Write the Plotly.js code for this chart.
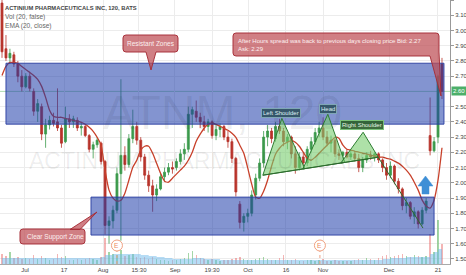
<!DOCTYPE html>
<html><head><meta charset="utf-8">
<script src="https://cdn.plot.ly/plotly-3.0.1.min.js"></script>
<style>html,body{margin:0;padding:0;background:#fff;overflow:hidden}#chart{width:466px;height:275px}</style>
</head><body><div id="chart"></div>
<script>
// ---- data (120-minute bars, ATNM) ----
const opens=[3.18,2.88,2.82,2.84,2.78,2.70,2.63,2.70,2.60,2.47,
2.50,2.32,2.38,2.41,2.40,2.36,2.27,2.42,2.40,2.41,
2.36,2.37,2.31,2.22,2.25,2.26,2.14,1.72,1.75,1.82,
2.06,2.18,2.12,2.29,2.37,2.28,2.17,2.05,1.98,1.92,
1.96,2.04,2.07,2.10,2.10,2.14,2.19,2.22,2.45,2.47,
2.43,2.40,2.37,2.40,2.31,2.35,2.37,2.30,2.27,2.16,
1.86,1.74,1.78,1.80,1.92,2.03,2.13,2.30,2.34,2.29,
2.37,2.34,2.27,2.30,2.19,2.10,2.17,2.13,2.22,2.27,
2.33,2.36,2.30,2.26,2.28,2.19,2.18,2.20,2.17,2.19,
2.16,2.10,2.15,2.18,2.17,2.19,2.15,2.10,2.05,2.11,
2.01,1.96,1.85,1.87,1.78,1.81,1.73,1.82,2.31,2.21,
2.30,2.78];
const highs=[3.20,2.97,2.88,2.86,2.80,2.74,2.72,2.72,2.62,2.55,
2.52,2.42,2.44,2.46,2.62,2.38,2.50,2.45,2.44,2.43,
2.40,2.38,2.32,2.27,2.30,2.27,2.15,1.78,1.85,2.10,
2.68,2.24,2.32,2.48,2.40,2.30,2.19,2.08,2.02,1.99,
2.06,2.10,2.13,2.14,2.16,2.22,2.26,2.50,2.50,2.54,
2.46,2.44,2.42,2.41,2.38,2.39,2.38,2.34,2.29,2.17,
1.88,1.80,1.83,1.95,2.06,2.16,2.34,2.38,2.36,2.40,
2.42,2.36,2.32,2.31,2.24,2.20,2.20,2.24,2.30,2.36,
2.40,2.43,2.34,2.31,2.29,2.22,2.21,2.22,2.21,2.21,
2.19,2.17,2.20,2.21,2.20,2.20,2.16,2.13,2.14,2.12,
2.03,1.97,1.90,1.88,1.84,1.82,1.84,1.90,2.56,2.30,
2.71,2.82];
const lows=[2.82,2.80,2.78,2.76,2.66,2.60,2.62,2.60,2.44,2.40,
2.28,2.23,2.35,2.37,2.34,2.23,2.26,2.36,2.36,2.34,
2.31,2.30,2.20,2.16,2.23,2.12,1.66,1.60,1.70,1.80,
1.62,2.08,2.10,2.26,2.25,2.14,2.02,1.94,1.81,1.88,
1.95,2.01,2.05,2.06,2.08,2.12,2.15,2.20,2.36,2.40,
2.36,2.34,2.33,2.29,2.28,2.30,2.28,2.23,2.13,1.91,
1.70,1.68,1.74,1.78,1.89,2.01,2.10,2.24,2.26,2.27,
2.32,2.24,2.22,2.16,2.06,2.08,2.11,2.11,2.20,2.25,
2.30,2.28,2.24,2.20,2.17,2.15,2.15,2.16,2.15,2.14,
2.07,2.07,2.13,2.15,2.14,2.13,2.07,2.02,2.03,1.99,
1.93,1.82,1.80,1.76,1.73,1.70,1.72,1.80,2.18,2.20,
2.26,2.55];
const closes=[2.86,2.82,2.85,2.78,2.70,2.63,2.70,2.62,2.47,2.52,
2.32,2.38,2.41,2.39,2.36,2.26,2.42,2.40,2.42,2.36,
2.37,2.31,2.22,2.25,2.28,2.14,1.72,1.75,1.82,2.06,
2.18,2.12,2.29,2.37,2.28,2.17,2.05,1.98,1.92,1.96,
2.04,2.07,2.10,2.09,2.14,2.19,2.22,2.45,2.48,2.43,
2.40,2.37,2.40,2.31,2.35,2.37,2.30,2.27,2.16,1.94,
1.74,1.78,1.80,1.92,2.03,2.13,2.30,2.34,2.29,2.37,
2.34,2.27,2.30,2.19,2.10,2.17,2.13,2.22,2.27,2.33,
2.36,2.30,2.26,2.28,2.19,2.18,2.20,2.17,2.19,2.16,
2.10,2.15,2.18,2.17,2.19,2.15,2.10,2.05,2.11,2.01,
1.96,1.85,1.87,1.78,1.81,1.73,1.82,1.88,2.21,2.27,
2.70,2.60];
const ema20=[2.705,2.764,2.790,2.790,2.784,2.764,2.744,2.725,2.705,2.679,
2.633,2.561,2.476,2.436,2.430,2.430,2.423,2.417,2.410,2.404,
2.397,2.384,2.364,2.338,2.299,2.247,2.083,1.952,1.899,1.880,
1.886,1.932,2.017,2.102,2.148,2.214,2.240,2.240,2.194,2.129,
2.063,2.011,2.004,2.030,2.057,2.083,2.109,2.148,2.201,2.273,
2.319,2.358,2.384,2.391,2.384,2.371,2.358,2.345,2.325,2.299,
2.247,2.194,2.096,1.991,1.906,1.899,1.945,2.017,2.109,2.188,
2.227,2.253,2.266,2.279,2.266,2.240,2.201,2.161,2.148,2.168,
2.194,2.220,2.247,2.273,2.299,2.292,2.247,2.220,2.214,2.207,
2.201,2.194,2.188,2.181,2.175,2.168,2.168,2.161,2.155,2.142,
2.129,2.109,2.083,2.050,2.004,1.952,1.886,1.847,1.834,1.886,
2.017,2.230];
const volume=[50,40,60,30,35,25,30,25,45,25,
40,30,20,25,50,35,40,20,20,25,
20,25,30,25,20,35,130,60,50,45,
70,40,45,50,35,30,35,25,35,25,
20,20,15,20,20,25,30,55,65,45,
30,25,20,25,20,15,20,20,25,30,
35,25,20,20,25,30,35,25,20,20,
30,45,20,20,25,15,15,20,20,15,
20,25,15,15,20,15,15,15,15,20,
25,20,30,25,20,30,40,45,35,40,
45,50,40,35,45,40,35,40,150,60,
220,100];
const volumeMA=[30,30,30,30,30,30,30,30,30,30,
30,30,30,30,30,30,30,30,30,30,
30,30,30,30,30,35,45,45,50,50,
50,50,50,50,50,45,45,40,40,35,
35,30,30,25,25,25,25,25,30,30,
30,25,25,25,25,20,20,20,20,20,
20,20,20,20,20,20,20,20,20,20,
20,20,20,20,20,20,20,20,20,20,
20,20,20,20,20,20,20,20,20,20,
20,20,20,20,20,20,25,25,30,30,
30,30,35,35,35,35,35,35,50,60,
75,80];
const tickPositions=[5.8,15.64,25.48,34.56,43.64,52.98,62.06,71.64,80.98,97.63,109.99];
const tickLabels=['Jul','17','Aug','15:30','Sep','19:30','Oct','16','Nov','Dec','21'];
const priceTicks=[1.5,1.6,1.7,1.8,1.9,2.0,2.1,2.2,2.3,2.4,2.5,2.7,2.8,2.9,3.0,3.1,3.2];
const lastPrice=2.60;
const resistanceZone={from:1.0,to:111.5,low:2.385,high:2.785};
const supportZone={from:22.45,to:109.0,low:1.657,high:1.906};
const leftShoulder=[[65.8,2.050],[70.6,2.423],[76.4,2.093]];
const headPeak=[[75.9,2.091],[82.2,2.450],[86.5,2.134]];
const rightShoulder=[[85.5,2.130],[91.1,2.332],[94.9,2.168]];
const neckline=[[65.8,2.050],[94.9,2.168]];
const breakdownLine=[[94.9,2.168],[106.2,1.703]];
const earnings=[29.0,80.2];

const bars=opens.map((_,i)=>i);
const upC='#3c9a4c', dnC='#b8332b';

// ---- geometry helpers (plot area 450x264 px) ----
const PW=450, PH=264;
function P(segs){return segs.map(s=>{const c=s[0];const n=s.slice(1);const out=[];for(let k=0;k<n.length;k+=2){out.push((n[k]/PW).toFixed(5)+','+(1-n[k+1]/PH).toFixed(5));}return c+out.join(' ');}).join(' ')+' Z';}
function triPath(pts){return 'M'+pts.map(p=>p[0]+','+p[1]).join(' L')+' Z';}

const calloutFill='rgba(190,78,84,0.72)', calloutLine='rgba(165,45,55,0.95)';
const shapes=[
 {type:'line',xref:'paper',yref:'y',x0:0,x1:1,y0:lastPrice,y1:lastPrice,line:{color:'rgba(76,175,80,0.45)',width:1},layer:'below'},
 {type:'rect',xref:'x',yref:'y',x0:resistanceZone.from,x1:resistanceZone.to,y0:resistanceZone.low,y1:resistanceZone.high,fillcolor:'rgba(30,60,170,0.55)',line:{color:'rgba(40,60,160,0.9)',width:1}},
 {type:'rect',xref:'x',yref:'y',x0:supportZone.from,x1:supportZone.to,y0:supportZone.low,y1:supportZone.high,fillcolor:'rgba(30,60,170,0.55)',line:{color:'rgba(40,60,160,0.9)',width:1}},
 {type:'path',xref:'x',yref:'y',path:triPath(leftShoulder),fillcolor:'rgba(120,205,110,0.6)',line:{color:'#2e7d32',width:1}},
 {type:'path',xref:'x',yref:'y',path:triPath(headPeak),fillcolor:'rgba(120,205,110,0.6)',line:{color:'#2e7d32',width:1}},
 {type:'path',xref:'x',yref:'y',path:triPath(rightShoulder),fillcolor:'rgba(120,205,110,0.6)',line:{color:'#2e7d32',width:1}},
 {type:'line',xref:'x',yref:'y',x0:neckline[0][0],y0:neckline[0][1],x1:neckline[1][0],y1:neckline[1][1],line:{color:'#2e6b2e',width:1}},
 {type:'line',xref:'x',yref:'y',x0:breakdownLine[0][0],y0:breakdownLine[0][1],x1:breakdownLine[1][0],y1:breakdownLine[1][1],line:{color:'#2e6b2e',width:1}},
 // callouts
 {type:'path',xref:'paper',yref:'paper',fillcolor:calloutFill,line:{color:calloutLine,width:1},
  path:P([['M',126,35],['L',175,35],['Q',178,35,178,38],['L',178,49],['Q',178,52,175,52],['L',156,52],['L',151,70],['L',146,52],['L',126,52],['Q',123,52,123,49],['L',123,38],['Q',123,35,126,35]])},
 {type:'path',xref:'paper',yref:'paper',fillcolor:calloutFill,line:{color:calloutLine,width:1},
  path:P([['M',236,33],['L',436,33],['Q',439,33,439,36],['L',439,52],['L',441,96],['L',430,56],['L',236,56],['Q',233,56,233,53],['L',233,36],['Q',233,33,236,33]])},
 {type:'path',xref:'paper',yref:'paper',fillcolor:calloutFill,line:{color:calloutLine,width:1},
  path:P([['M',23,229],['L',82,229],['Q',85,229,85,232],['L',85,241],['Q',85,244,82,244],['L',23,244],['Q',20,244,20,241],['L',20,232],['Q',20,229,23,229]])},
 {type:'path',xref:'paper',yref:'paper',fillcolor:calloutFill,line:{color:calloutLine,width:1},
  path:P([['M',70,229.5],['L',97,212],['L',80,229.5]])},
 // blue arrow
 {type:'path',xref:'paper',yref:'paper',fillcolor:'#3f8fd6',line:{color:'#3f8fd6',width:0.5},
  path:P([['M',425.5,176],['L',433,186],['L',429,186],['L',429,194],['L',422,194],['L',422,186],['L',418,186]])}
];
earnings.forEach(xv=>{
 shapes.push({type:'line',xref:'x',yref:'paper',x0:xv,x1:xv,y0:0,y1:1-251/PH,line:{color:'#f0a080',width:1,dash:'dot'}});
 shapes.push({type:'circle',xref:'x',yref:'paper',xsizemode:'pixel',ysizemode:'pixel',xanchor:xv,yanchor:1-245.5/PH,x0:-5.5,x1:5.5,y0:-5.5,y1:5.5,fillcolor:'#fff',line:{color:'#f0a080',width:1}});
});

const wm='rgba(0,0,0,0.075)';
const annotations=[
 {xref:'paper',yref:'paper',x:222/PW,y:1-112/PH,text:'ATNM, 120',showarrow:false,font:{size:48,color:wm}},
 {xref:'paper',yref:'paper',x:224/PW,y:1-161/PH,text:'ACTINIUM PHARMACEUTICALS INC',showarrow:false,font:{size:23,color:wm}},
 {xref:'paper',yref:'paper',x:3/PW,xanchor:'left',y:1-8/PH,yanchor:'middle',text:'<b>ACTINIUM PHARMACEUTICALS INC, 120, BATS</b>',showarrow:false,font:{size:5.8,color:'#444'}},
 {xref:'paper',yref:'paper',x:3/PW,xanchor:'left',y:1-17/PH,yanchor:'middle',text:'Vol (20, false)',showarrow:false,font:{size:6.6,color:'#666'}},
 {xref:'paper',yref:'paper',x:3/PW,xanchor:'left',y:1-26/PH,yanchor:'middle',text:'EMA (20, close)',showarrow:false,font:{size:6.6,color:'#666'}},
 {xref:'paper',yref:'paper',x:150.5/PW,y:1-43.5/PH,yanchor:'middle',text:'Resistant Zones',showarrow:false,font:{size:6.5,color:'#fdf0f0'}},
 {xref:'paper',yref:'paper',x:25/PW,xanchor:'left',y:1-236.5/PH,yanchor:'middle',text:'Clear Support Zone',showarrow:false,font:{size:6.5,color:'#fdf0f0'}},
 {xref:'paper',yref:'paper',x:236/PW,xanchor:'left',align:'left',y:1-44.5/PH,yanchor:'middle',text:'After Hours spread was back to previous days closing price Bid: 2.27<br>Ask: 2.29',showarrow:false,font:{size:6,color:'#fdf0f0'}},
 {xref:'x',yref:'y',x:70.5,y:2.456,text:'Left Shoulder',showarrow:false,bgcolor:'rgba(45,80,95,0.9)',bordercolor:'#7fa7b5',borderwidth:1,borderpad:1,font:{size:6,color:'#dfeef2'}},
 {xref:'x',yref:'y',x:82.2,y:2.486,text:'Head',showarrow:false,bgcolor:'rgba(45,80,95,0.9)',bordercolor:'#7fa7b5',borderwidth:1,borderpad:1,font:{size:6,color:'#dfeef2'}},
 {xref:'x',yref:'y',x:90.9,y:2.381,text:'Right Shoulder',showarrow:false,bgcolor:'rgba(45,95,45,0.92)',bordercolor:'#7cc27c',borderwidth:1,borderpad:1,font:{size:6,color:'#e4f4e4'}},
 {xref:'paper',yref:'y',x:1,xanchor:'left',xshift:1,y:lastPrice,text:lastPrice.toFixed(2),showarrow:false,bgcolor:'#4caf6a',borderpad:1,font:{size:6,color:'#fff'}}
];
earnings.forEach(xv=>annotations.push({xref:'x',yref:'paper',x:xv,y:1-245.5/PH,yanchor:'middle',text:'E',showarrow:false,font:{size:6.5,color:'#ec8a62'}}));

const traces=[
 {type:'scatter',x:bars,y:volumeMA,yaxis:'y2',mode:'lines',line:{width:0,shape:'hv'},fill:'tozeroy',fillcolor:'rgba(110,185,235,0.5)',hoverinfo:'skip'},
 {type:'bar',x:bars,y:volume,yaxis:'y2',width:0.35,marker:{color:closes.map((c,i)=>c>=opens[i]?'rgba(76,175,80,0.5)':'rgba(230,90,90,0.45)')},hoverinfo:'skip'},
 {type:'candlestick',x:bars,open:opens,high:highs,low:lows,close:closes,whiskerwidth:0,
  increasing:{line:{color:upC,width:0.8},fillcolor:upC},decreasing:{line:{color:dnC,width:0.8},fillcolor:dnC},hoverinfo:'skip'},
 {type:'scatter',x:bars,y:ema20,mode:'lines',line:{color:'#c8402a',width:1.3,shape:'spline',smoothing:0.6},hoverinfo:'skip'}
];

const layout={
 width:466,height:275,margin:{l:0,r:16,t:0,b:11,pad:0},
 paper_bgcolor:'#fff',plot_bgcolor:'#fff',showlegend:false,
 font:{family:'Liberation Sans, Arial, sans-serif',size:6,color:'#555'},
 xaxis:{range:[-0.505,113.02],tickmode:'array',tickvals:tickPositions,ticktext:tickLabels,showgrid:true,gridcolor:'#ececec',gridwidth:1,zeroline:false,showline:true,linecolor:'#aaa',linewidth:1,ticks:'',tickfont:{size:6,color:'#444'},rangeslider:{visible:false},fixedrange:true},
 yaxis:{side:'right',range:[1.467,3.2],tickmode:'array',tickvals:priceTicks,tickformat:'.2f',showgrid:true,gridcolor:'#ececec',zeroline:false,showline:true,linecolor:'#999',linewidth:1,ticks:'outside',ticklen:3,tickcolor:'#999',tickfont:{size:6,color:'#444'},fixedrange:true},
 yaxis2:{overlaying:'y',range:[0,1320],visible:false,fixedrange:true},
 bargap:0,shapes:shapes,annotations:annotations
};
Plotly.newPlot('chart',traces,layout,{displayModeBar:false,staticPlot:true});
</script></body></html>
